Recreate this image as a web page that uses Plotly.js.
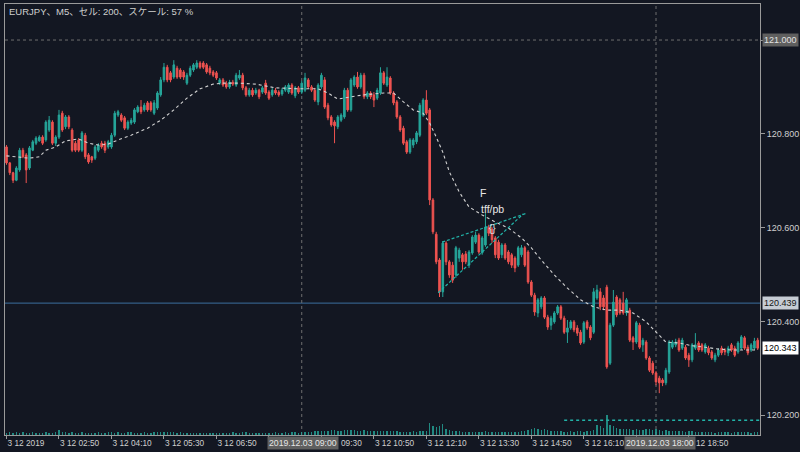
<!DOCTYPE html>
<html>
<head>
<meta charset="utf-8">
<script src="https://cdn.plot.ly/plotly-3.0.1.min.js"></script>
<style>html,body{margin:0;padding:0;background:#131722;}#chart{width:800px;height:452px;}</style>
</head>
<body>
<div id="chart"></div>
<script>
// ---- data (EURJPY M5, 2019.12.03, bar index 0 = 01:30) ----
const chartTitle = "EURJPY、M5、セル: 200、スケール: 57 %";

const openP = [
120.772,120.738,120.717,120.701,120.723,120.765,120.755,120.727,120.765,120.780,
120.785,120.793,120.787,120.808,120.825,120.780,120.793,120.844,120.815,120.836,
120.808,120.780,120.787,120.765,120.797,120.755,120.751,120.748,120.765,120.780,
120.780,120.772,120.772,120.797,120.840,120.840,120.834,120.812,120.823,120.825,
120.847,120.857,120.851,120.866,120.866,120.844,120.855,120.883,120.915,120.942,
120.930,120.921,120.940,120.936,120.932,120.908,120.925,120.936,120.942,120.951,
120.951,120.947,120.940,120.932,120.930,120.908,120.915,120.908,120.900,120.910,
120.904,120.919,120.925,120.898,120.883,120.893,120.887,120.893,120.889,120.908,
120.889,120.883,120.893,120.889,120.885,120.893,120.889,120.904,120.881,120.898,
120.889,120.893,120.915,120.900,120.893,120.868,120.900,120.915,120.861,120.836,
120.825,120.815,120.829,120.836,120.893,120.851,120.904,120.921,120.900,120.925,
120.879,120.887,120.883,120.876,120.887,120.930,120.904,120.919,120.887,120.868,
120.836,120.812,120.783,120.761,120.776,120.783,120.797,120.840,120.872,120.851,
120.659,120.586,120.531,120.463,120.567,120.527,120.520,120.499,120.535,120.542,
120.544,120.520,120.546,120.569,120.584,120.546,120.563,120.601,120.597,120.578,
120.569,120.542,120.563,120.548,120.542,120.535,120.520,120.542,120.557,120.548,
120.484,120.456,120.418,120.431,120.450,120.409,120.392,120.399,120.418,120.431,
120.407,120.377,120.386,120.399,120.386,120.377,120.356,120.399,120.388,120.377,
120.450,120.463,120.450,120.473,120.311,120.392,120.452,120.446,120.439,120.418,
120.424,120.365,120.356,120.392,120.350,120.356,120.322,120.311,120.290,120.279,
120.275,120.269,120.292,120.345,120.350,120.360,120.343,120.345,120.328,120.318,
120.343,120.354,120.350,120.335,120.343,120.335,120.318,120.328,120.343,120.339,
120.333,120.350,120.343,120.335,120.343,120.365,120.345,120.339,120.343,120.360];

const highP = [
120.776,120.740,120.719,120.731,120.770,120.770,120.759,120.774,120.787,120.795,
120.797,120.797,120.829,120.838,120.829,120.797,120.851,120.849,120.840,120.840,
120.812,120.785,120.791,120.806,120.802,120.759,120.753,120.776,120.780,120.785,
120.785,120.787,120.802,120.849,120.851,120.844,120.838,120.829,120.834,120.855,
120.861,120.872,120.866,120.870,120.870,120.872,120.891,120.921,120.951,120.947,
120.934,120.957,120.945,120.940,120.936,120.930,120.945,120.951,120.957,120.955,
120.955,120.951,120.945,120.936,120.934,120.919,120.919,120.913,120.915,120.915,
120.930,120.936,120.930,120.902,120.898,120.898,120.898,120.896,120.902,120.915,
120.893,120.898,120.898,120.893,120.898,120.904,120.908,120.908,120.902,120.902,
120.913,120.930,120.919,120.904,120.898,120.908,120.930,120.921,120.866,120.840,
120.829,120.840,120.844,120.898,120.898,120.919,120.925,120.932,120.930,120.930,
120.891,120.891,120.889,120.898,120.942,120.934,120.942,120.923,120.891,120.872,
120.840,120.817,120.787,120.791,120.791,120.806,120.866,120.876,120.893,120.855,
120.663,120.591,120.535,120.571,120.571,120.531,120.527,120.561,120.557,120.546,
120.550,120.552,120.584,120.591,120.588,120.582,120.631,120.606,120.601,120.582,
120.574,120.567,120.567,120.552,120.546,120.539,120.561,120.563,120.561,120.552,
120.488,120.461,120.450,120.454,120.454,120.414,120.412,120.422,120.435,120.435,
120.412,120.403,120.403,120.403,120.392,120.382,120.401,120.403,120.392,120.471,
120.478,120.471,120.456,120.478,120.397,120.467,120.456,120.450,120.463,120.450,
120.429,120.369,120.401,120.397,120.365,120.360,120.326,120.316,120.294,120.284,
120.279,120.301,120.360,120.360,120.363,120.365,120.365,120.350,120.333,120.354,
120.375,120.358,120.354,120.354,120.348,120.339,120.333,120.343,120.348,120.343,
120.348,120.354,120.348,120.358,120.371,120.369,120.350,120.354,120.365,120.365];

const lowP = [
120.734,120.712,120.695,120.699,120.719,120.748,120.695,120.723,120.763,120.776,
120.783,120.776,120.783,120.804,120.776,120.774,120.789,120.804,120.810,120.810,
120.761,120.761,120.761,120.761,120.746,120.736,120.738,120.744,120.761,120.768,
120.759,120.768,120.768,120.793,120.836,120.825,120.808,120.808,120.819,120.821,
120.844,120.842,120.847,120.847,120.847,120.840,120.851,120.879,120.910,120.910,
120.910,120.917,120.917,120.917,120.915,120.904,120.921,120.932,120.938,120.938,
120.938,120.928,120.925,120.921,120.915,120.904,120.900,120.896,120.896,120.902,
120.900,120.915,120.893,120.879,120.879,120.879,120.883,120.874,120.885,120.883,
120.872,120.879,120.883,120.879,120.881,120.889,120.885,120.883,120.876,120.885,
120.885,120.889,120.896,120.889,120.868,120.861,120.896,120.853,120.829,120.815,
120.780,120.810,120.825,120.832,120.847,120.847,120.900,120.896,120.896,120.874,
120.874,120.874,120.857,120.872,120.883,120.904,120.900,120.883,120.861,120.832,
120.804,120.776,120.757,120.757,120.770,120.778,120.793,120.836,120.840,120.648,
120.586,120.522,120.452,120.452,120.520,120.493,120.482,120.493,120.527,120.510,
120.522,120.514,120.542,120.565,120.544,120.542,120.559,120.582,120.567,120.535,
120.531,120.535,120.531,120.522,120.514,120.505,120.516,120.537,120.516,120.480,
120.452,120.412,120.409,120.426,120.405,120.382,120.382,120.395,120.414,120.403,
120.373,120.354,120.382,120.377,120.369,120.350,120.352,120.382,120.360,120.373,
120.446,120.424,120.424,120.299,120.307,120.388,120.409,120.414,120.414,120.412,
120.356,120.339,120.352,120.341,120.335,120.318,120.292,120.286,120.264,120.247,
120.262,120.264,120.288,120.341,120.345,120.335,120.339,120.318,120.303,120.313,
120.339,120.335,120.335,120.331,120.328,120.318,120.313,120.324,120.328,120.328,
120.326,120.335,120.324,120.331,120.339,120.339,120.328,120.335,120.339,120.339];

const closeP = [
120.738,120.717,120.701,120.727,120.765,120.751,120.723,120.770,120.783,120.791,
120.793,120.780,120.825,120.829,120.780,120.793,120.840,120.808,120.836,120.815,
120.765,120.765,120.765,120.802,120.751,120.740,120.744,120.772,120.776,120.772,
120.765,120.783,120.797,120.844,120.847,120.829,120.812,120.825,120.829,120.851,
120.857,120.847,120.861,120.851,120.851,120.866,120.887,120.915,120.942,120.915,
120.915,120.947,120.921,120.921,120.921,120.925,120.940,120.947,120.951,120.942,
120.942,120.932,120.930,120.925,120.919,120.915,120.904,120.900,120.910,120.906,
120.925,120.925,120.898,120.883,120.893,120.883,120.893,120.879,120.898,120.887,
120.876,120.893,120.887,120.883,120.893,120.900,120.904,120.887,120.898,120.889,
120.908,120.919,120.900,120.893,120.872,120.904,120.925,120.857,120.834,120.819,
120.817,120.836,120.840,120.893,120.851,120.915,120.921,120.900,120.925,120.879,
120.887,120.879,120.872,120.893,120.930,120.908,120.921,120.887,120.866,120.836,
120.808,120.780,120.761,120.787,120.787,120.802,120.861,120.872,120.844,120.659,
120.591,120.527,120.463,120.567,120.527,120.499,120.488,120.557,120.552,120.527,
120.527,120.548,120.580,120.584,120.548,120.578,120.601,120.588,120.574,120.542,
120.535,120.563,120.535,120.527,120.520,120.514,120.557,120.557,120.520,120.484,
120.456,120.420,120.446,120.450,120.409,120.388,120.407,120.418,120.431,120.407,
120.377,120.386,120.399,120.382,120.375,120.354,120.397,120.386,120.365,120.463,
120.467,120.431,120.431,120.303,120.392,120.441,120.414,120.418,120.418,120.446,
120.360,120.356,120.397,120.345,120.360,120.322,120.296,120.290,120.271,120.269,
120.269,120.296,120.356,120.356,120.356,120.339,120.360,120.322,120.318,120.350,
120.350,120.339,120.339,120.350,120.333,120.322,120.328,120.339,120.333,120.335,
120.343,120.339,120.328,120.354,120.367,120.343,120.333,120.350,120.358,120.343];

const tickVolume = [
90,110,100,120,100,140,100,90,110,100,
90,100,110,100,90,110,200,130,110,100,
120,90,100,110,90,80,100,90,110,100,
90,110,120,100,110,90,100,110,120,100,
90,100,110,100,90,110,120,130,140,120,
130,110,100,110,100,90,100,90,80,90,
100,90,100,90,100,90,80,90,100,110,
90,100,120,110,100,90,80,90,80,90,
90,100,110,90,100,110,100,120,110,100,
130,140,120,110,150,160,180,170,160,190,
200,180,170,190,200,220,190,180,170,190,
180,170,160,180,170,160,150,170,160,150,
140,130,140,130,150,140,160,170,180,480,
380,330,370,440,260,200,180,170,150,140,
130,120,130,140,130,120,150,140,130,120,
110,120,130,120,110,120,130,160,180,220,
260,280,240,220,260,200,180,170,160,150,
140,130,150,140,150,160,140,150,170,200,
420,380,300,800,420,350,300,260,240,260,
230,210,250,220,200,240,230,220,250,200,
180,190,160,150,170,160,150,140,160,150,
130,140,120,110,120,110,100,110,120,130,
110,100,120,110,130,120,110,100,120,110];

// moving average
const maIdx = [0,7,10,12,15,18,22,25,28,31,34,38,43,47,51,55,59,63,66,71,76,82,89,95,98,101,105,109,115,118,121,124,127,129,131,133,135,138,141,145,149,153,157,160,163,167,171,175,179,183,187,191,195,198,201,205,209,213,217,221,227,229];
const maVal = [120.753,120.748,120.751,120.765,120.772,120.785,120.789,120.780,120.776,120.778,120.787,120.797,120.812,120.829,120.851,120.876,120.896,120.906,120.908,120.908,120.906,120.898,120.896,120.896,120.887,120.874,120.879,120.883,120.887,120.887,120.868,120.851,120.844,120.823,120.793,120.761,120.719,120.676,120.644,120.627,120.612,120.599,120.578,120.557,120.531,120.499,120.471,120.446,120.431,120.424,120.424,120.418,120.399,120.377,120.356,120.354,120.348,120.345,120.341,120.339,120.339,120.339];

// triangle pattern lines
const triUpperIdx = [132.8, 158.7], triUpperVal = [120.569, 120.631];
const triLowerIdx = [131.6, 157.5], triLowerVal = [120.461, 120.629];
// dotted level
const levelIdx = [170, 229.7], levelVal = [120.189, 120.189];

// axis ticks (labels hidden behind the crosshair time boxes are left blank;
// the visible tails of the partly hidden ones are drawn as separate texts)
const xTickIdx = [0,16,32,48,64,80,96,112,128,144,160,176,192,208];
const xTickText = ["3 12 2019","3 12 02:50","3 12 04:10","3 12 05:30","3 12 06:50","","","3 12 10:50","3 12 12:10","3 12 13:30","3 12 14:50","3 12 16:10","",""];
const xTailIdx = [96, 208];
const xTailText = ["09:30", "12 18:50"];
const yTickVals = [120.2, 120.4, 120.6, 120.8, 121.0];

// crosshairs and price markers
const crossIdx = [90, 198];
const crossText = ["2019.12.03 09:00", "2019.12.03 18:00"];
const crossPrice = 121.000;
const bidPrice = 120.439;
const lastPrice = 120.343;

// pattern annotations
const noteText = ["F", "tff/pb", "{}"];
const noteIdx = [145.3, 148.2, 148.3];
const noteVal = [120.674, 120.640, 120.599];

// ---- drawing ----
const idx = closeP.map((_, i) => i);
const GREEN = '#26a69a', RED = '#ef5350', BG = '#131722';
const FONT = 'Liberation Sans, Arial, Noto Sans CJK JP, sans-serif';

const traces = [
  {type: 'bar', x: idx, y: tickVolume, yaxis: 'y2', width: 0.42,
   marker: {color: 'rgba(38,166,154,0.8)', line: {width: 0}}, hoverinfo: 'skip', showlegend: false},
  {type: 'candlestick', x: idx, open: openP, high: highP, low: lowP, close: closeP,
   increasing: {line: {color: GREEN, width: 1}, fillcolor: GREEN},
   decreasing: {line: {color: RED, width: 1}, fillcolor: RED},
   whiskerwidth: 0, hoverinfo: 'skip', showlegend: false},
  {type: 'scatter', mode: 'lines', x: maIdx, y: maVal,
   line: {color: '#d2d2d2', width: 1.1, dash: '3px,3px'}, hoverinfo: 'skip', showlegend: false},
  {type: 'scatter', mode: 'lines', x: triUpperIdx, y: triUpperVal,
   line: {color: '#22b3a8', width: 1.2, dash: '3px,2px'}, hoverinfo: 'skip', showlegend: false},
  {type: 'scatter', mode: 'lines', x: triLowerIdx, y: triLowerVal,
   line: {color: '#22b3a8', width: 1.2, dash: '3px,2px'}, hoverinfo: 'skip', showlegend: false},
  {type: 'scatter', mode: 'lines', x: levelIdx, y: levelVal,
   line: {color: '#22b3a8', width: 1.5, dash: '3px,3px'}, hoverinfo: 'skip', showlegend: false}
];

const shapes = [
  {type: 'line', xref: 'paper', x0: 0, x1: 1, yref: 'y', y0: crossPrice, y1: crossPrice,
   line: {color: '#6f6f6f', width: 1, dash: '3px,3px'}, layer: 'below'},
  {type: 'line', xref: 'paper', x0: 0, x1: 1, yref: 'y', y0: bidPrice, y1: bidPrice,
   line: {color: '#3b6f9f', width: 1}, layer: 'below'}
];
crossIdx.forEach(c => shapes.push({type: 'line', xref: 'x', x0: c, x1: c, yref: 'paper', y0: 0, y1: 1,
  line: {color: '#6f6f6f', width: 1, dash: '3px,3px'}, layer: 'below'}));

const annotations = [
  {text: chartTitle, xref: 'paper', yref: 'paper', x: 0.003, y: 0.982, xanchor: 'left', yanchor: 'middle',
   showarrow: false, font: {family: FONT, size: 9.5, color: '#d0d0d0'}},
  {text: crossPrice.toFixed(3), xref: 'paper', x: 1, xanchor: 'left', xshift: 2, yref: 'y', y: crossPrice,
   yanchor: 'middle', showarrow: false, bgcolor: '#5f5f5f', borderpad: 1, font: {family: FONT, size: 9, color: '#e2e2e2'}},
  {text: bidPrice.toFixed(3), xref: 'paper', x: 1, xanchor: 'left', xshift: 2, yref: 'y', y: bidPrice,
   yanchor: 'middle', showarrow: false, bgcolor: '#c6ccd4', borderpad: 1, font: {family: FONT, size: 9, color: '#151515'}},
  {text: lastPrice.toFixed(3), xref: 'paper', x: 1, xanchor: 'left', xshift: 2, yref: 'y', y: lastPrice,
   yanchor: 'middle', showarrow: false, bgcolor: '#ffffff', borderpad: 1, font: {family: FONT, size: 9, color: '#000000'}}
];
crossIdx.forEach((c, k) => annotations.push({text: crossText[k], xref: 'x', x: c, yref: 'paper', y: -0.019,
  xanchor: 'center', yanchor: 'middle', xshift: k === 0 ? 1 : 4, showarrow: false, bgcolor: '#5f5f5f', borderpad: 1,
  font: {family: FONT, size: 8.7, color: '#e6e6e6'}}));
xTailIdx.forEach((c, k) => annotations.push({text: xTailText[k], xref: 'x', x: c, yref: 'paper', y: -0.019,
  xanchor: 'left', yanchor: 'middle', xshift: k === 0 ? 18 : 5, showarrow: false,
  font: {family: FONT, size: 8.3, color: '#cfcfcf'}}));
noteText.forEach((t, k) => annotations.push({text: t, xref: 'x', x: noteIdx[k], yref: 'y', y: noteVal[k],
  xanchor: 'center', yanchor: 'middle', showarrow: false,
  font: {family: FONT, size: k === 2 ? 10 : 10.5, color: '#e8e8e8'}}));

const layout = {
  width: 800, height: 452,
  paper_bgcolor: BG, plot_bgcolor: BG,
  margin: {l: 5, r: 40, t: 4, b: 17},
  showlegend: false,
  bargap: 0,
  xaxis: {
    type: 'linear', range: [-0.46, 229.7], rangeslider: {visible: false},
    showgrid: false, zeroline: false, showline: true, linecolor: '#9a9a9a', linewidth: 1, mirror: true,
    ticks: 'outside', ticklen: 3, tickcolor: '#9a9a9a', tickvals: xTickIdx, ticktext: xTickText,
    ticklabelposition: 'outside right',
    tickfont: {family: FONT, size: 8.3, color: '#cfcfcf'}
  },
  yaxis: {
    side: 'right', range: [120.1578, 121.0768],
    showgrid: false, zeroline: false, showline: true, linecolor: '#9a9a9a', linewidth: 1, mirror: true,
    ticks: 'outside', ticklen: 4, tickcolor: '#9a9a9a', tickvals: yTickVals,
    ticktext: yTickVals.map(v => v === crossPrice ? '' : v.toFixed(3)),
    tickfont: {family: FONT, size: 9, color: '#cfcfcf'}
  },
  yaxis2: {overlaying: 'y', range: [0, 17240], visible: false, fixedrange: true},
  shapes: shapes,
  annotations: annotations
};

Plotly.newPlot('chart', traces, layout, {staticPlot: true, displayModeBar: false});
</script>
</body>
</html>
